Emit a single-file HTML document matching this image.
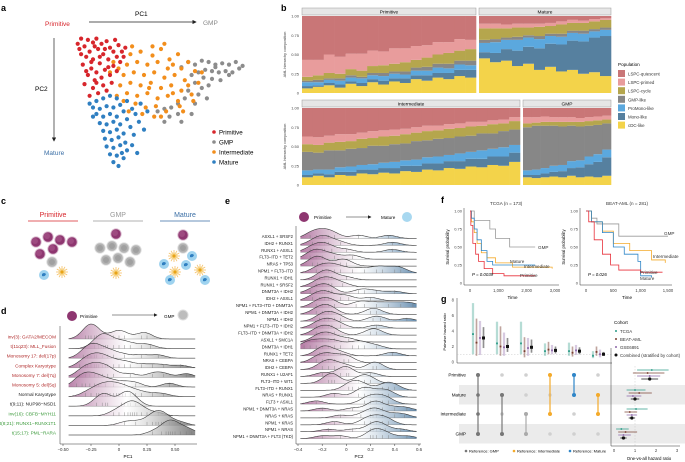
<!DOCTYPE html>
<html><head><meta charset="utf-8"><style>
html,body{margin:0;padding:0;background:#fff}
svg{display:block;font-family:"Liberation Sans",Arial,sans-serif}
</style></head><body>
<svg id="fig" width="685" height="462" viewBox="0 0 685 462">
<defs>
<linearGradient id="gd" gradientUnits="userSpaceOnUse" x1="63" y1="0" x2="190" y2="0">
<stop offset="0" stop-color="#9c4f86" stop-opacity="0.8"/><stop offset="0.5" stop-color="#ffffff" stop-opacity="0.6"/><stop offset="1" stop-color="#777" stop-opacity="0.85"/></linearGradient>
<linearGradient id="ge" gradientUnits="userSpaceOnUse" x1="298" y1="0" x2="420" y2="0">
<stop offset="0" stop-color="#9c4f86" stop-opacity="0.8"/><stop offset="0.5" stop-color="#ffffff" stop-opacity="0.6"/><stop offset="1" stop-color="#4a78a0" stop-opacity="0.9"/></linearGradient>
<marker id="arr" markerWidth="6" markerHeight="6" refX="5" refY="3" orient="auto"><path d="M0,0 L6,3 L0,6z" fill="#222"/></marker>
</defs>

<g font-weight="bold" font-size="9" fill="#000">
<text x="1" y="11">a</text>
<text x="281" y="11">b</text>
<text x="1" y="204">c</text>
<text x="225" y="204">e</text>
<text x="1" y="314">d</text>
<text x="441" y="203">f</text>
<text x="441" y="302">g</text>
</g>

<g>
<text x="45" y="26" font-size="6.5" fill="#d7262c">Primitive</text>
<line x1="89" y1="22" x2="196" y2="22" stroke="#222" stroke-width="0.7" marker-end="url(#arr)"/>
<text x="135" y="16" font-size="6.5">PC1</text>
<text x="203" y="25" font-size="6.5" fill="#888">GMP</text>
<line x1="54" y1="38" x2="54" y2="141" stroke="#222" stroke-width="0.7" marker-end="url(#arr)"/>
<text x="35" y="91" font-size="6.5">PC2</text>
<text x="44" y="155" font-size="6.5" fill="#3a6ea5">Mature</text>
</g>
<g id="scatter"></g>
<g id="legA" font-size="6"></g>
<g id="panelB"></g>
<g id="panelC"></g>
<g id="panelD"></g>
<g id="panelE"></g>
<g id="panelF"></g>
<g id="panelG"></g>
</svg>

<script>
const scRed = "0.03,0.02 0.07,0.03 0.1,0.05 0.05,0.08 0.12,0.02 0.15,0.06 0.18,0.04 0.08,0.12 0.02,0.1 0.13,0.1 0.2,0.09 0.06,0.16 0.1,0.18 0.16,0.14 0.22,0.12 0.25,0.07 0.04,0.22 0.09,0.25 0.14,0.21 0.19,0.18 0.24,0.16 0.27,0.12 0.12,0.28 0.17,0.26 0.22,0.23 0.07,0.3 0.11,0.34 0.15,0.32 0.2,0.3 0.26,0.2 0.05,0.37 0.1,0.4 0.16,0.38 0.13,0.44 0.08,0.46 0.21,0.36 0.03,0.14 0.11,0.08 0.17,0.1 0.23,0.03 0.28,0.16 0.14,0.16 0.19,0.24 0.09,0.2 0.06,0.27 0.12,0.36 0.18,0.42 0.29,0.09 0.01,0.06 0.24,0.27";
const scOrange = "0.32,0.14 0.38,0.12 0.45,0.15 0.5,0.1 0.55,0.18 0.6,0.14 0.66,0.2 0.3,0.22 0.36,0.2 0.42,0.22 0.48,0.2 0.54,0.25 0.62,0.25 0.7,0.27 0.28,0.3 0.34,0.28 0.4,0.3 0.46,0.28 0.52,0.32 0.58,0.3 0.64,0.34 0.72,0.36 0.26,0.38 0.32,0.36 0.38,0.38 0.44,0.36 0.5,0.4 0.56,0.38 0.62,0.42 0.68,0.45 0.3,0.44 0.36,0.46 0.42,0.44 0.48,0.48 0.54,0.46 0.6,0.5 0.35,0.52 0.41,0.55 0.47,0.54 0.53,0.58 0.24,0.46 0.28,0.5 0.74,0.28 0.2,0.28 0.33,0.08 0.57,0.22 0.43,0.4 0.5,0.62 0.39,0.6 0.63,0.58 0.22,0.2 0.25,0.25 0.45,0.08 0.52,0.06 0.69,0.5 0.66,0.38 0.31,0.58 0.57,0.44 0.61,0.54 0.46,0.62";
const scGray = "0.62,0.24 0.66,0.2 0.7,0.22 0.74,0.19 0.78,0.2 0.82,0.22 0.86,0.21 0.9,0.22 0.94,0.2 0.98,0.23 0.72,0.28 0.76,0.26 0.8,0.27 0.84,0.28 0.88,0.27 0.92,0.28 0.68,0.3 0.75,0.32 0.8,0.33 0.85,0.34 0.7,0.36 0.74,0.4 0.78,0.38 0.66,0.42 0.72,0.45 0.77,0.48 0.64,0.48 0.6,0.52 0.56,0.55 0.52,0.56 0.48,0.58 0.55,0.62 0.6,0.6 0.68,0.6 0.52,0.66 0.82,0.24 0.9,0.3 0.96,0.25 0.7,0.52 0.62,0.66";
const scBlue = "0.12,0.5 0.16,0.48 0.2,0.46 0.24,0.48 0.1,0.55 0.14,0.56 0.18,0.54 0.22,0.55 0.26,0.53 0.3,0.5 0.12,0.6 0.16,0.62 0.2,0.6 0.24,0.62 0.28,0.58 0.33,0.56 0.14,0.67 0.18,0.68 0.22,0.66 0.26,0.68 0.3,0.64 0.35,0.6 0.16,0.73 0.2,0.74 0.24,0.72 0.28,0.75 0.32,0.7 0.37,0.66 0.17,0.79 0.21,0.8 0.25,0.78 0.29,0.82 0.34,0.76 0.18,0.85 0.22,0.86 0.26,0.84 0.3,0.88 0.2,0.91 0.24,0.92 0.28,0.94 0.22,0.97 0.25,1.0 0.4,0.72 0.42,0.58 0.38,0.52 0.08,0.52 0.1,0.62 0.33,0.84 0.36,0.9 0.27,0.9";

const popNames = ["cDC-like","Mono-like","ProMono-like","GMP-like","LSPC-cycle","LSPC-primed","LSPC-quiescent"];
const barsPrimitive = [[.06,.03,.05,.02,.05,.22],[.08,.02,.04,.03,.06,.2],[.1,.03,.04,.02,.07,.24],[.07,.04,.05,.03,.06,.22],[.12,.03,.05,.03,.08,.2],[.09,.04,.06,.02,.08,.22],[.14,.04,.05,.03,.09,.2],[.11,.05,.06,.04,.1,.18],[.15,.04,.06,.03,.1,.2],[.13,.06,.05,.04,.12,.18],[.18,.05,.06,.04,.1,.18],[.16,.07,.06,.05,.12,.16],[.2,.06,.07,.05,.12,.16],[.18,.08,.06,.06,.14,.14],[.22,.08,.07,.05,.13,.15],[.2,.1,.06,.06,.15,.12]];
const barsMature = [[.45,.08,.12,.04,.15,.06],[.4,.12,.14,.04,.14,.06],[.42,.15,.12,.03,.12,.05],[.35,.2,.14,.04,.12,.05],[.38,.22,.12,.03,.1,.05],[.3,.28,.12,.04,.12,.04],[.34,.3,.1,.03,.1,.04],[.28,.35,.1,.04,.12,.04],[.3,.38,.1,.03,.1,.04],[.25,.42,.1,.04,.1,.03],[.27,.45,.08,.03,.1,.03],[.22,.52,.08,.03,.1,.02]];
const barsIntermediate = [[.1,.03,.06,.24,.1,.1],[.12,.03,.05,.22,.1,.1],[.1,.04,.06,.25,.1,.09],[.13,.04,.06,.22,.11,.1],[.12,.05,.07,.23,.1,.09],[.15,.05,.06,.22,.12,.08],[.14,.06,.07,.24,.1,.09],[.16,.06,.07,.22,.12,.08],[.15,.07,.08,.23,.11,.08],[.18,.07,.07,.22,.12,.07],[.17,.08,.08,.24,.11,.07],[.2,.08,.08,.22,.12,.07],[.19,.09,.09,.23,.11,.06],[.22,.09,.08,.22,.12,.06],[.21,.1,.1,.22,.11,.06],[.24,.1,.09,.21,.12,.06],[.23,.11,.11,.22,.1,.05],[.26,.11,.1,.2,.12,.05],[.25,.12,.12,.21,.1,.05],[.3,.12,.1,.2,.11,.05]];
const barsGMP = [[.1,.03,.06,.56,.05,.08],[.09,.04,.07,.57,.04,.07],[.1,.05,.07,.55,.05,.07],[.11,.06,.08,.52,.05,.06],[.1,.08,.08,.5,.06,.06],[.12,.1,.09,.46,.05,.06],[.1,.13,.09,.44,.06,.05],[.11,.16,.1,.4,.06,.05],[.1,.2,.1,.38,.06,.05],[.12,.24,.1,.34,.05,.05]];

const dLabels = ["inv(3): GATA2/MECOM","t(11q23): MLL_Fusion","Monosomy 17: del(17p)","Complex Karyotype","Monosomy 7: del(7q)","Monosomy 5: del(5q)","Normal Karyotype","t(9;11): NUP98\u2212NSD1","inv(16): CBFB\u2212MYH11","t(8;21): RUNX1\u2212RUNX1T1","t(15;17): PML\u2212RARA"];
const dColors = ["#b02a2a","#b02a2a","#b02a2a","#b02a2a","#b02a2a","#b02a2a","#222","#222","#3b9a3b","#3b9a3b","#3b9a3b"];
const dValues = [[-0.3,-0.27,-0.25,-0.22,-0.2,-0.05,0,0.05,0.2,0.25],[-0.22,-0.18,-0.16,-0.14,-0.12,-0.1,-0.05,0,0.05,0.1,0.2,0.28],[-0.32,-0.28,-0.25,-0.22,-0.2,-0.15,-0.1,-0.05,0.05,0.2,0.35],[-0.35,-0.3,-0.28,-0.25,-0.22,-0.2,-0.18,-0.15,-0.12,-0.1,-0.05,0,0.05,0.1,0.2,0.3,0.4,0.55],[-0.35,-0.3,-0.26,-0.22,-0.18,-0.15,-0.1,-0.05,0.1,0.3,0.4,0.6],[-0.38,-0.33,-0.3,-0.26,-0.22,-0.18,-0.12,-0.05,0.05,0.15,0.45],[-0.3,-0.25,-0.2,-0.18,-0.15,-0.12,-0.1,-0.08,-0.05,-0.02,0,0.03,0.06,0.1,0.15,0.2,0.3,0.4],[-0.2,-0.15,-0.12,-0.1,0.02,0.05,0.08,0.1,0.15],[-0.05,0,0.05,0.08,0.1,0.12,0.14,0.16,0.2,0.25,0.35],[0.05,0.15,0.25,0.3,0.33,0.35,0.38,0.4,0.45,0.55],[0.3,0.38,0.42,0.44,0.46,0.48,0.5,0.55,0.6,0.65]];
const dTicks = [-0.5,-0.25,0,0.25,0.5];
const dTickLabels = ["\u22120.50","\u22120.25","0","0.25","0.50"];

const eLabels = ["ASXL1 + SRSF2","IDH2 + RUNX1","RUNX1 + ASXL1","FLT3\u2212ITD + TET2","NRAS + TP53","NPM1 + FLT3\u2212ITD","RUNX1 + IDH1","RUNX1 + SRSF2","DNMT3A + IDH2","IDH2 + ASXL1","NPM1 + FLT3\u2212ITD + DNMT3A","NPM1 + DNMT3A + IDH2","NPM1 + IDH2","NPM1 + FLT3\u2212ITD + IDH2","FLT3\u2212ITD + DNMT3A + IDH2","ASXL1 + SMC1A","DNMT3A + IDH1","RUNX1 + TET2","NRAS + CEBPA","IDH2 + CEBPA","RUNX1 + U2AF1","FLT3\u2212ITD + WT1","FLT3\u2212ITD + RUNX1","NRAS + RUNX1","FLT3 + ASXL1","NPM1 + DNMT3A + NRAS","NRAS + KRAS","NPM1 + KRAS","NPM1 + NRAS","NPM1 + DNMT3A + FLT3 (TKD)"];
const eValues = [[-0.3,-0.25,-0.2,-0.15,-0.1,0.1,0.35],[-0.28,-0.22,-0.18,-0.15,-0.05,0.38],[-0.3,-0.25,-0.2,-0.18,-0.12,0,0.38],[-0.3,-0.25,-0.2,-0.1,0.05],[-0.28,-0.24,-0.2,-0.05,0],[-0.25,-0.2,-0.15,-0.1,-0.05,0.05,0.15,0.25,0.3,0.4,0.45],[-0.22,-0.18,-0.15,-0.12,0],[-0.25,-0.2,-0.15,-0.12,-0.03],[-0.3,-0.25,-0.2,-0.18,-0.15,-0.12,0.1,0.15,0.25,0.4],[-0.28,-0.22,-0.18,-0.15,-0.05,0.02,0.2],[-0.25,-0.2,-0.15,-0.1,0.08,0.15,0.25,0.35,0.45,0.55],[-0.25,-0.2,-0.15,-0.12,0.2,0.25],[-0.22,-0.18,-0.15,-0.1,-0.05,0.22,0.28,0.5],[-0.25,-0.2,-0.15,-0.12,-0.05,0.25],[-0.25,-0.2,-0.15,-0.1,0.2,0.25],[-0.25,-0.2,-0.15,-0.1,0.02],[-0.35,-0.3,-0.25,-0.2,-0.15,-0.1,-0.05,0.05,0.1,0.15,0.25],[-0.22,-0.18,-0.15,-0.05,0.38],[-0.25,-0.2,-0.15,-0.1,-0.02,0.02],[-0.2,-0.15,-0.1,0,0.22,0.25],[-0.2,-0.05,0,0.02,0.2],[-0.15,-0.12,-0.1,0.1,0.15,0.2],[0.02,0.05,0.1,0.15,0.3,0.35,0.4],[-0.1,0.1,0.15,0.2,0.3,0.35],[-0.25,0.15,0.2,0.25,0.3,0.35],[-0.2,0.05,0.2,0.22,0.25,0.3,0.4,0.5],[-0.05,0.12,0.2,0.22,0.25,0.3,0.4,0.48],[-0.1,0.15,0.2,0.25,0.3,0.35],[-0.15,0.05,0.2,0.22,0.25,0.28,0.32,0.45],[-0.2,-0.05,0.2,0.22,0.25,0.3,0.35,0.5]];
const eTicks = [-0.4,-0.2,0,0.2,0.4,0.6];
const eTickLabels = ["\u22120.4","\u22120.2","0","0.2","0.4","0.6"];

const kmGroups = ["Primitive","Intermediate","Mature","GMP"];
const tcgaTimes = [[0,30,100,200,300,500,800,1200,2300],[0,50,150,250,400,600,900,1500,2900],[0,50,150,250,400,600,800,2300],[0,150,400,700,900,1400,2300]];
const tcgaSurv = [[1,.8,.55,.4,.3,.2,.13,.1,.1],[1,.85,.7,.55,.42,.35,.28,.22,.2],[1,.9,.75,.6,.45,.3,.25,.25],[1,.87,.87,.75,.62,.5,.5]];
const beatTimes = [[0,50,150,300,450,600,1000,1400],[0,100,300,500,800,1200,1450],[0,100,300,500,700,950,1000,1200],[0,100,200,600,1500]];
const beatSurv = [[1,.85,.6,.4,.25,.18,.15,.15],[1,.85,.72,.55,.45,.32,.28],[1,.85,.7,.5,.4,.3,.1,.08],[1,.9,.82,.65,.65]];
const survTicks = [0,0.25,0.5,0.75,1];
const survTickLabels = ["0","0.25","0.50","0.75","1.00"];
const tcgaTimeTicks = [0,1000,2000,3000];
const tcgaTimeLabels = ["0","1,000","2,000","3,000"];
const beatTimeTicks = [0,500,1000,1500];
const beatTimeLabels = ["0","500","1,000","1,500"];

const cohorts = ["TCGA","BEAT-AML","GSE6891","Combined (stratified by cohort)"];
const pairEst = [[3.6,2.5,3.1,3.1],[2.4,2.0,1.9,2.0],[2.4,1.4,1.8,1.9],[1.4,1.6,1.5,1.5],[1.4,1.2,1.5,1.4],[0.8,1.3,1.0,1.0]];
const pairLo = [[1,0.8,0.9,1.8],[1,0.8,0.8,1.3],[1,0.6,0.8,1.2],[0.8,1,1,1.1],[0.8,0.7,0.9,1.0],[0.5,0.8,0.6,0.8]];
const pairHi = [[7.6,5.6,5.3,4.5],[5.2,4.6,3.8,3.1],[5.2,3.2,3.1,2.9],[2.4,2.6,2.2,2.0],[2.5,2.0,2.2,1.9],[1.4,2.0,1.6,1.3]];
const pairTicks = [0,2,4,6,8];
const hierRows = ["Primitive","Mature","Intermediate","GMP"];
const pairLinks = [[0,3],[1,3],[2,3],[0,2],[0,1],[1,2]];
const ovaEst = [[1.8,1.6,1.7,1.7],[1.0,1.2,0.9,1.0],[1.05,0.75,0.85,0.85],[0.35,0.55,0.45,0.45]];
const ovaLo = [[1.1,0.9,1.1,1.3],[.6,.7,.6,.8],[.6,.5,.6,.7],[.1,.2,.2,.3]];
const ovaHi = [[2.6,2.4,2.2,2.1],[1.5,1.8,1.3,1.2],[1.6,1.1,1.1,1.0],[.7,1.1,.8,.6]];
const ovaTicks = [0,1,2,3];

const NS="http://www.w3.org/2000/svg";
function mk(parent,tag,attrs,text){const e=document.createElementNS(NS,tag);for(const k in attrs)e.setAttribute(k,attrs[k]);if(text!==undefined)e.textContent=text;parent.appendChild(e);return e;}
function parsePts(s){return s.split(" ").map(p=>p.split(",").map(Number));}

// PANEL A
const sc=document.getElementById("scatter");
const ax=v=>76+v*170, ay=v=>36+v*130;
const groupsA=[[scGray,"#8c8c8c","GMP"],[scOrange,"#f28e1c","Intermediate"],[scBlue,"#2f7fc1","Mature"],[scRed,"#d7262c","Primitive"]];
groupsA.forEach(g=>{parsePts(g[0]).forEach(p=>{const c=mk(sc,"circle",{cx:ax(p[0]),cy:ay(p[1]),r:2.1,fill:g[1]});

});});
const legA=document.getElementById("legA");
[["Primitive","#d7262c"],["GMP","#8c8c8c"],["Intermediate","#f28e1c"],["Mature","#2f7fc1"]].forEach((l,i)=>{
 const g=mk(legA,"g",{});
 
 
 mk(g,"circle",{cx:214,cy:132+i*10,r:1.8,fill:l[1]});
 mk(g,"text",{x:219,y:134.5+i*10,"font-size":6.2},l[0]);});

// PANEL B
const B=document.getElementById("panelB");
const popColors=["#f3d34a","#56809f","#5ba8de","#878787","#b5a64d","#e89c9c","#c97677"];
function stackPanel(title,bars,x0,x1,top,bot){
 const st=mk(B,"rect",{x:x0,y:top-8,width:x1-x0,height:7,fill:"#e6e6e6",stroke:"#999","stroke-width":0.5});
 
 
 mk(B,"text",{x:(x0+x1)/2,y:top-2.4,"font-size":4.8,"text-anchor":"middle"},title);
 const w=(x1-x0)/bars.length, h=bot-top;
 bars.forEach((b,i)=>{let acc=0;const vals=b.concat([1-b.reduce((a,c)=>a+c,0)]);
  vals.forEach((v,k)=>{const r=mk(B,"rect",{x:x0+i*w,y:bot-(acc+v)*h,width:w+0.3,height:v*h,fill:popColors[k]});
   
   acc+=v;});});
}
function yAxisB(top,bot){[[1,"1.00"],[.75,"0.75"],[.5,"0.50"],[.25,"0.25"],[0,"0"]].forEach(t=>{mk(B,"text",{x:299,y:bot-t[0]*(bot-top)+1.5,"font-size":4,"text-anchor":"end",fill:"#444"},t[1]);});
 const lab=mk(B,"text",{x:0,y:0,"font-size":3.8,"text-anchor":"middle",fill:"#444",transform:`translate(286,${(top+bot)/2}) rotate(-90)`},"AML hierarchy composition");
 }
stackPanel("Primitive",barsPrimitive,302,476,16,93);
stackPanel("Mature",barsMature,479,611,16,93);
stackPanel("Intermediate",barsIntermediate,302,520,108,185);
stackPanel("GMP",barsGMP,523,611,108,185);
yAxisB(16,93);yAxisB(108,185);
mk(B,"text",{x:618,y:66,"font-size":4.6},"Population");
["LSPC-quiescent","LSPC-primed","LSPC-cycle","GMP-like","ProMono-like","Mono-like","cDC-like"].forEach((n,i)=>{
 const g=mk(B,"g",{});
 
 
 mk(g,"rect",{x:618,y:70+i*8.6,width:7,height:7,fill:popColors[6-i]});
 mk(g,"text",{x:628,y:75.5+i*8.6,"font-size":4.4,fill:"#333"},n);});

// PANEL C
const C=document.getElementById("panelC");
[["Primitive","#d7262c",28,78],["GMP","#999",93,143],["Mature","#3a6ea5",160,210]].forEach(h=>{
 const t=mk(C,"text",{x:(h[2]+h[3])/2,y:217,"font-size":7,fill:h[1],"text-anchor":"middle"},h[0]);
 
 mk(C,"line",{x1:h[2],y1:221,x2:h[3],y2:221,stroke:h[1],"stroke-width":0.8});});
function cell(x,y,type){
 if(type==="p"){mk(C,"circle",{cx:x,cy:y,r:5.2,fill:"#8e3670",stroke:"#d9b8cd","stroke-width":0.9});mk(C,"circle",{cx:x-1,cy:y-1,r:3,fill:"#9e4a80"});}
 else if(type==="g"){mk(C,"circle",{cx:x,cy:y,r:5.2,fill:"#b3b3b3",stroke:"#ddd","stroke-width":0.9});mk(C,"circle",{cx:x,cy:y,r:3,fill:"#a0a0a0"});}
 else if(type==="b"){mk(C,"circle",{cx:x,cy:y,r:5,fill:"#9fd3ef"});mk(C,"path",{d:`M${x-2},${y-1} q2,-2 4,0 q-1,3 -4,2z`,fill:"#2f7fc1"});}
 else {for(let a=0;a<12;a++){const r=a*Math.PI/6;mk(C,"line",{x1:x,y1:y,x2:x+6*Math.cos(r),y2:y+6*Math.sin(r),stroke:"#f5c26b","stroke-width":0.8});}
  mk(C,"circle",{cx:x,cy:y,r:3.5,fill:"#f7d58a"});mk(C,"circle",{cx:x,cy:y,r:1.6,fill:"#e8a317"});}
}
[[36,242,"p"],[48,237,"p"],[60,240,"p"],[72,242,"p"],[40,254,"p"],[53,249,"p"],[52,262,"g"],[44,275,"b"],[62,272,"y"]].forEach(c=>cell(c[0],c[1],c[2]));
[[116,234,"p"],[100,248,"g"],[112,246,"g"],[124,248,"g"],[136,250,"g"],[106,260,"g"],[118,258,"g"],[130,262,"g"],[116,273,"y"]].forEach(c=>cell(c[0],c[1],c[2]));
[[183,235,"p"],[183,248,"g"],[174,256,"y"],[192,256,"b"],[164,264,"b"],[186,265,"b"],[175,272,"y"],[200,270,"y"],[170,280,"b"],[205,280,"b"]].forEach(c=>cell(c[0],c[1],c[2]));

// RIDGES
function kde(vals,x,bw){let s=0;vals.forEach(v=>{const z=(x-v)/bw;s+=Math.exp(-0.5*z*z);});return s;}
function ridges(G,labels,values,colors,xs,baseY,step,H,lo,hi,grad,fs,labX,nameP){
 values.forEach((vals,i)=>{
  const base=baseY+i*step;const pts=[];let mx=0;
  for(let v=lo;v<=hi+1e-9;v+=(hi-lo)/80){const d=kde(vals,v,0.065);pts.push([v,d]);if(d>mx)mx=d;}
  let dpath=`M${xs(lo)},${base}`;pts.forEach(p=>{dpath+=` L${xs(p[0]).toFixed(1)},${(base-p[1]/mx*H).toFixed(1)}`;});
  const area=mk(G,"path",{d:dpath+` L${xs(hi)},${base}Z`,fill:`url(#${grad})`,stroke:"none"});
  
  mk(G,"path",{d:dpath.replace(/^M[^L]*L/,"M"),fill:"none",stroke:"#333","stroke-width":0.55});
  mk(G,"line",{x1:xs(lo),y1:base,x2:xs(hi),y2:base,stroke:"#555","stroke-width":0.3});
  vals.forEach(v=>{const t=mk(G,"line",{x1:xs(v),y1:base,x2:xs(v),y2:base-3.5,stroke:"#777","stroke-width":0.4});
   });
  const lt=mk(G,"text",{x:labX,y:base-0.5,"font-size":fs,"text-anchor":"end",fill:colors?colors[i]:"#222"},labels[i]);
  
 });
}
const D=document.getElementById("panelD");
const xd=v=>119+v*112;
mk(D,"circle",{cx:72,cy:316,r:5,fill:"#8e3670"});
mk(D,"text",{x:80,y:318,"font-size":4.6},"Primitive");
mk(D,"line",{x1:112,y1:315,x2:157,y2:315,stroke:"#222","stroke-width":0.6,"marker-end":"url(#arr)"});
mk(D,"text",{x:164,y:318,"font-size":4.6},"GMP");
mk(D,"circle",{cx:183,cy:315,r:5,fill:"#bdbdbd",stroke:"#ddd"});
ridges(D,dLabels,dValues,dColors,xd,339,9.6,15,-0.45,0.68,"gd",4.7,56,"karyotype");
mk(D,"line",{x1:60,y1:326,x2:60,y2:444,stroke:"#333","stroke-width":0.5});
mk(D,"line",{x1:60,y1:444,x2:197,y2:444,stroke:"#333","stroke-width":0.5});
dTicks.forEach((t,i)=>{mk(D,"line",{x1:xd(t),y1:444,x2:xd(t),y2:446,stroke:"#333","stroke-width":0.5});
 mk(D,"text",{x:xd(t),y:451,"font-size":4.4,"text-anchor":"middle",fill:"#333"},dTickLabels[i]);});
mk(D,"text",{x:128,y:458,"font-size":4.6,"text-anchor":"middle"},"PC1");
const E=document.getElementById("panelE");
const xe=v=>298+(v+0.4)*121;
mk(E,"circle",{cx:304,cy:217,r:5,fill:"#8e3670"});
mk(E,"text",{x:314,y:219,"font-size":4.6},"Primitive");
mk(E,"line",{x1:346,y1:217,x2:371,y2:217,stroke:"#222","stroke-width":0.6,"marker-end":"url(#arr)"});
mk(E,"text",{x:381,y:219,"font-size":4.6},"Mature");
mk(E,"circle",{cx:407,cy:217,r:5,fill:"#a8d8f0"});
ridges(E,eLabels,eValues,null,xe,238.5,6.9,10,-0.38,0.58,"ge",4.2,293,"mutation");
mk(E,"line",{x1:296,y1:226,x2:296,y2:444,stroke:"#333","stroke-width":0.5});
mk(E,"line",{x1:296,y1:444,x2:421,y2:444,stroke:"#333","stroke-width":0.5});
eTicks.forEach((t,i)=>{mk(E,"line",{x1:xe(t),y1:444,x2:xe(t),y2:446,stroke:"#333","stroke-width":0.5});
 mk(E,"text",{x:xe(t),y:451,"font-size":4.4,"text-anchor":"middle",fill:"#333"},eTickLabels[i]);});
mk(E,"text",{x:359,y:458,"font-size":4.6,"text-anchor":"middle"},"PC2");

// PANEL F
const F=document.getElementById("panelF");
const kmColors=["#e8313b","#f4aa2a","#2f86c8","#9a9a9a"];
function km(title,x0,xMax,pxW,times,surv,tTicks,tLabels,pText,labelPos){
 const y0=283,y1=211;const xs=t=>x0+t/xMax*pxW, ys=s=>y0-(y0-y1)*s;
 mk(F,"text",{x:x0+20,y:205,"font-size":4.6,fill:"#333"},title);
 mk(F,"line",{x1:x0-6,y1:208,x2:x0-6,y2:y0+2,stroke:"#333","stroke-width":0.5});
 mk(F,"line",{x1:x0-6,y1:y0+2,x2:x0+pxW+4,y2:y0+2,stroke:"#333","stroke-width":0.5});
 survTicks.forEach((s,i)=>mk(F,"text",{x:x0-8,y:ys(s)+1.5,"font-size":4,"text-anchor":"end",fill:"#444"},survTickLabels[i]));
 tTicks.forEach((t,i)=>mk(F,"text",{x:xs(t),y:y0+9,"font-size":4.2,"text-anchor":"middle",fill:"#444"},tLabels[i]));
 mk(F,"text",{x:x0+pxW/2,y:y0+16,"font-size":4.6,"text-anchor":"middle"},"Time");
 mk(F,"text",{x:0,y:0,"font-size":4.2,"text-anchor":"middle",transform:`translate(${x0-21},${(y0+y1)/2}) rotate(-90)`},"Survival probability");
 [3,1,2,0].forEach(g=>{let d=`M${xs(times[g][0])},${ys(surv[g][0])}`;
  for(let k=1;k<times[g].length;k++){d+=` H${xs(times[g][k])} V${ys(surv[g][k])}`;}
  const p=mk(F,"path",{d:d,fill:"none",stroke:kmColors[g],"stroke-width":0.8});
  });
 labelPos.forEach((lp,g)=>{if(lp)mk(F,"text",{x:lp[0],y:lp[1],"font-size":4.6,fill:"#333"},kmGroups[g]);});
 mk(F,"text",{x:x0+2,y:ys(0.1),"font-size":4.4,"font-style":"italic"},pText);
}
km("TCGA (n = 173)",470,3000,85,tcgaTimes,tcgaSurv,tcgaTimeTicks,tcgaTimeLabels,"P = 0.0039",[[520,277],[524,268],[510,263],[538,249]]);
km("BEAT-AML (n = 281)",586,1500,82,beatTimes,beatSurv,beatTimeTicks,beatTimeLabels,"P = 0.026",[[640,274],[653,258],[640,280],[664,235]]);

// PANEL G
const G=document.getElementById("panelG");
const cohColors=["#2a9a86","#7a3f30","#8c66a8","#111"];
const gyUp=v=>362-v*7.75;
mk(G,"line",{x1:457,y1:298,x2:457,y2:363,stroke:"#333","stroke-width":0.5});
mk(G,"line",{x1:457,y1:363,x2:612,y2:363,stroke:"#333","stroke-width":0.5});
pairTicks.forEach(t=>mk(G,"text",{x:454,y:gyUp(t)+1.5,"font-size":4.2,"text-anchor":"end",fill:"#444"},String(t)));
mk(G,"text",{x:0,y:0,"font-size":4,"text-anchor":"middle",transform:"translate(446,332) rotate(-90)"},"Pairwise hazard ratio");
mk(G,"line",{x1:457,y1:gyUp(1),x2:612,y2:gyUp(1),stroke:"#bbb","stroke-width":0.4,"stroke-dasharray":"1.5,1.5"});
const colX=[478,502,526,550,574,598];
pairEst.forEach((row,j)=>{row.forEach((v,k)=>{const x=colX[j]-5+k*3.5;
 mk(G,"rect",{x:x-1.2,y:gyUp(pairHi[j][k]),width:2.4,height:gyUp(pairLo[j][k])-gyUp(pairHi[j][k]),fill:cohColors[k],opacity:0.22});
 mk(G,"line",{x1:x,y1:gyUp(pairHi[j][k]),x2:x,y2:gyUp(pairLo[j][k]),stroke:cohColors[k],"stroke-width":0.4,opacity:0.8});
 const pt=mk(G,"rect",{x:x-(k===3?1.5:0.9),y:gyUp(v)-(k===3?1.5:0.9),width:k===3?3:1.8,height:k===3?3:1.8,fill:cohColors[k]});
 });});
mk(G,"text",{x:614,y:324,"font-size":4.6},"Cohort");
cohorts.forEach((c,k)=>{const g=mk(G,"g",{});
 
 mk(g,"circle",{cx:616,cy:331+k*8,r:k===3?1.5:1,fill:cohColors[k]});
 mk(g,"text",{x:620,y:333+k*8,"font-size":4.4,fill:"#333"},c);});
const rowY=[375,395,414,434];
[1,3].forEach(r=>mk(G,"rect",{x:459,y:rowY[r]-10,width:226,height:19.5,fill:"#ebebeb"}));
mk(G,"line",{x1:611,y1:348,x2:611,y2:446,stroke:"#333","stroke-width":0.5});
hierRows.forEach((h,r)=>{const t=mk(G,"text",{x:466,y:rowY[r]+1.5,"font-size":4.6,"text-anchor":"end"},h);
 });
const linkColors=["#777","#777","#aaa","#f4aa2a","#2f86c8","#f4aa2a"];
pairLinks.forEach((lk,j)=>{
 rowY.forEach((y,r)=>mk(G,"circle",{cx:colX[j],cy:y,r:1.8,fill:"#d0d0d0"}));
 mk(G,"line",{x1:colX[j],y1:rowY[lk[0]],x2:colX[j],y2:rowY[lk[1]],stroke:linkColors[j],"stroke-width":1.2});
 lk.forEach(r=>{const c=mk(G,"circle",{cx:colX[j],cy:rowY[r],r:2,fill:linkColors[j]});
  });});
for(let r=1;r<3;r++)mk(G,"circle",{cx:colX[0],cy:rowY[r],r:1.8,fill:"#777"});
const fx=v=>614+v*21;
mk(G,"line",{x1:fx(1),y1:366,x2:fx(1),y2:446,stroke:"#bbb","stroke-width":0.4,"stroke-dasharray":"1.5,1.5"});
mk(G,"line",{x1:611,y1:446,x2:680,y2:446,stroke:"#333","stroke-width":0.5});
ovaTicks.forEach(t=>mk(G,"text",{x:fx(t),y:452,"font-size":4.2,"text-anchor":"middle",fill:"#444"},String(t)));
mk(G,"text",{x:649,y:460,"font-size":4.4,"text-anchor":"middle"},"One-vs-all hazard ratio");
ovaEst.forEach((row,r)=>row.forEach((v,k)=>{const y=rowY[r]-5+k*3;
 mk(G,"rect",{x:fx(ovaLo[r][k]),y:y-1,width:fx(ovaHi[r][k])-fx(ovaLo[r][k]),height:2,fill:cohColors[k],opacity:0.2});
 mk(G,"line",{x1:fx(ovaLo[r][k]),y1:y,x2:fx(ovaHi[r][k]),y2:y,stroke:cohColors[k],"stroke-width":0.4});
 const p=mk(G,"circle",{cx:fx(v),cy:y,r:k===3?1.6:0.9,fill:cohColors[k]});
 }));
[["Reference: GMP","#777",466],["Reference: Intermediate","#f4aa2a",514],["Reference: Mature","#2f86c8",570]].forEach(l=>{
 const g=mk(G,"g",{});
 mk(g,"circle",{cx:l[2],cy:451,r:1.3,fill:l[1]});mk(g,"text",{x:l[2]+3,y:452.5,"font-size":4},l[0]);});
</script>
</body></html>
